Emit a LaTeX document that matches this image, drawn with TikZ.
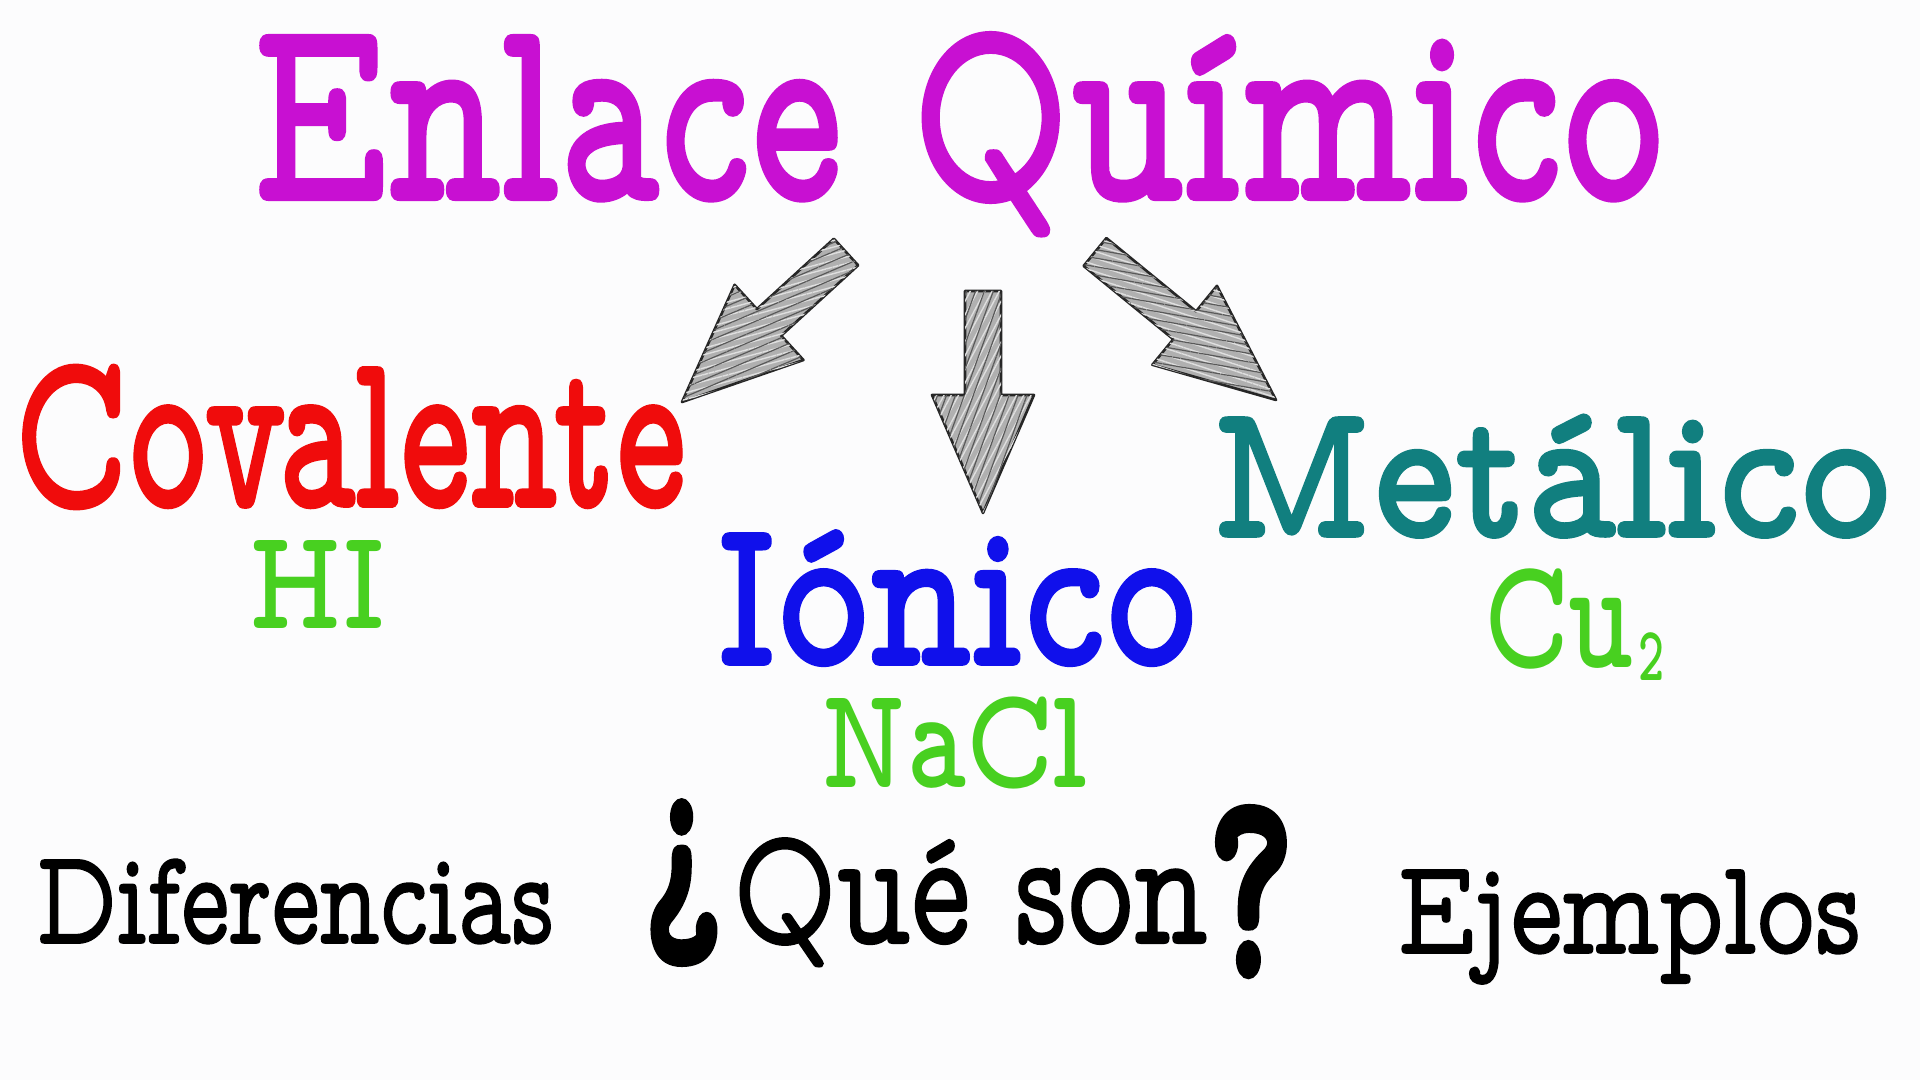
\documentclass[tikz,border=0pt]{standalone}
\usepackage{fontspec}
\usepackage{graphicx}
\usetikzlibrary{patterns.meta}
\IfFontExistsTF{lmmonoproplt10-bold.otf}
 {\newfontfamily\twb{lmmonoproplt10-bold.otf}[FakeBold=0.8]
  \newfontfamily\twm{lmmonoproplt10-bold.otf}
  \newfontfamily\twq{lmmonoproplt10-bold.otf}[FakeBold=3]}
 {\newfontfamily\twb{Liberation Mono}[FakeBold=2]
  \newfontfamily\twm{Liberation Mono}[FakeBold=1]
  \newfontfamily\twq{Liberation Mono}[FakeBold=3]}
\IfFontExistsTF{lmmonoprop10-regular.otf}
 {\newfontfamily\twr{lmmonoprop10-regular.otf}[FakeBold=1.3]}
 {\newfontfamily\twr{Liberation Mono}}
\newsavebox\mytbox
\newlength\mycapht
% #1 font, #2 width (pt), #3 cap height (pt), #4 text
\newcommand\fitcap[4]{%
  \sbox\mytbox{#1#4}%
  \settoheight\mycapht{#1H}%
  \pgfmathsetmacro\sxf{#2/\wd\mytbox}%
  \pgfmathsetmacro\syf{#3/\mycapht}%
  \scalebox{\sxf}[\syf]{\usebox\mytbox}}
\definecolor{bg}{RGB}{252,252,253}
\definecolor{titlecol}{RGB}{200,16,210}
\definecolor{covcol}{RGB}{240,12,12}
\definecolor{ioncol}{RGB}{16,16,235}
\definecolor{metcol}{RGB}{17,127,127}
\definecolor{excol}{RGB}{72,208,32}
\tikzset{
  lbl/.style={inner sep=0pt, outer sep=0pt, anchor=base west},
  qmark/.style={inner sep=0pt, outer sep=0pt, anchor=north west},
  hatched/.style={fill=gray!62, draw=black!85, line width=1.3pt, line join=round,
    postaction={pattern={Lines[angle=#1,distance=3.2pt,line width=0.7pt]}, pattern color=white!75!gray},
    postaction={pattern={Lines[angle=#1+8,distance=4.2pt,line width=0.6pt]}, pattern color=black!65}},
  pics/hatcharrow/.style={code={
    \path[hatched=\hatchangle] (0,18) -- ({#1-118},18) -- ({#1-118},51) -- (#1,0)
      -- ({#1-118},-51) -- ({#1-118},-18) -- (0,-18) -- cycle;}}
}
\begin{document}
\begin{tikzpicture}[x=0.5pt,y=-0.5pt]
\path[use as bounding box, fill=bg] (0,0) rectangle (1920,1080);

% title
\node[lbl, text=titlecol] (title) at (251,200) {\fitcap{\twb}{707}{82.5}{Enlace Químico}};

% categories
\node[lbl, text=covcol] (cov) at (14,507) {\fitcap{\twb}{336}{70}{Covalente}};
\node[lbl, text=excol] (hi) at (248,628) {\fitcap{\twm}{69}{44}{HI}};
\node[lbl, text=ioncol] (ion) at (716,665) {\fitcap{\twb}{241}{66}{Iónico}};
\node[lbl, text=excol] (nacl) at (820,787) {\fitcap{\twm}{133.5}{44.5}{NaCl}};
\node[lbl, text=metcol] (met) at (1210,537) {\fitcap{\twb}{341}{60}{Metálico}};
\node[lbl, text=excol] (cu) at (1484,667) {\fitcap{\twm}{75}{48.5}{Cu}};
\node[lbl, text=excol] (cusub) at (1638,680) {\fitcap{\twm}{13}{23.5}{2}};

% bottom line
\node[lbl] (dif) at (36,943) {\fitcap{\twr}{259}{41.5}{Diferencias}};
\node[qmark] (qopen) at (644,802) {\resizebox*{40pt}{80.5pt}{\twq ¿}};
\node[lbl] (que) at (733,943) {\fitcap{\twr}{237.5}{51.5}{Qué son}};
\node[qmark] (qclose) at (1208,808) {\resizebox*{43pt}{83.5pt}{\twq ?}};
\node[lbl] (ej) at (1397,953) {\fitcap{\twr}{232}{41.5}{Ejemplos}};

% arrows
\coordinate (tailL) at (846,252);
\coordinate (tipL) at (682,402);
\coordinate (tailM) at (983,291);
\coordinate (tipM) at (982,513);
\coordinate (tailR) at (1095,252);
\coordinate (tipR) at (1276,400);
\def\hatchangle{15}
\pic[rotate=-137.55] at (tailL) {hatcharrow=222.3};
\def\hatchangle{62}
\pic[rotate=-90] at (tailM) {hatcharrow=222};
\def\hatchangle{-18}
\pic[rotate=-39.27] at (tailR) {hatcharrow=233.8};
\end{tikzpicture}
\end{document}
